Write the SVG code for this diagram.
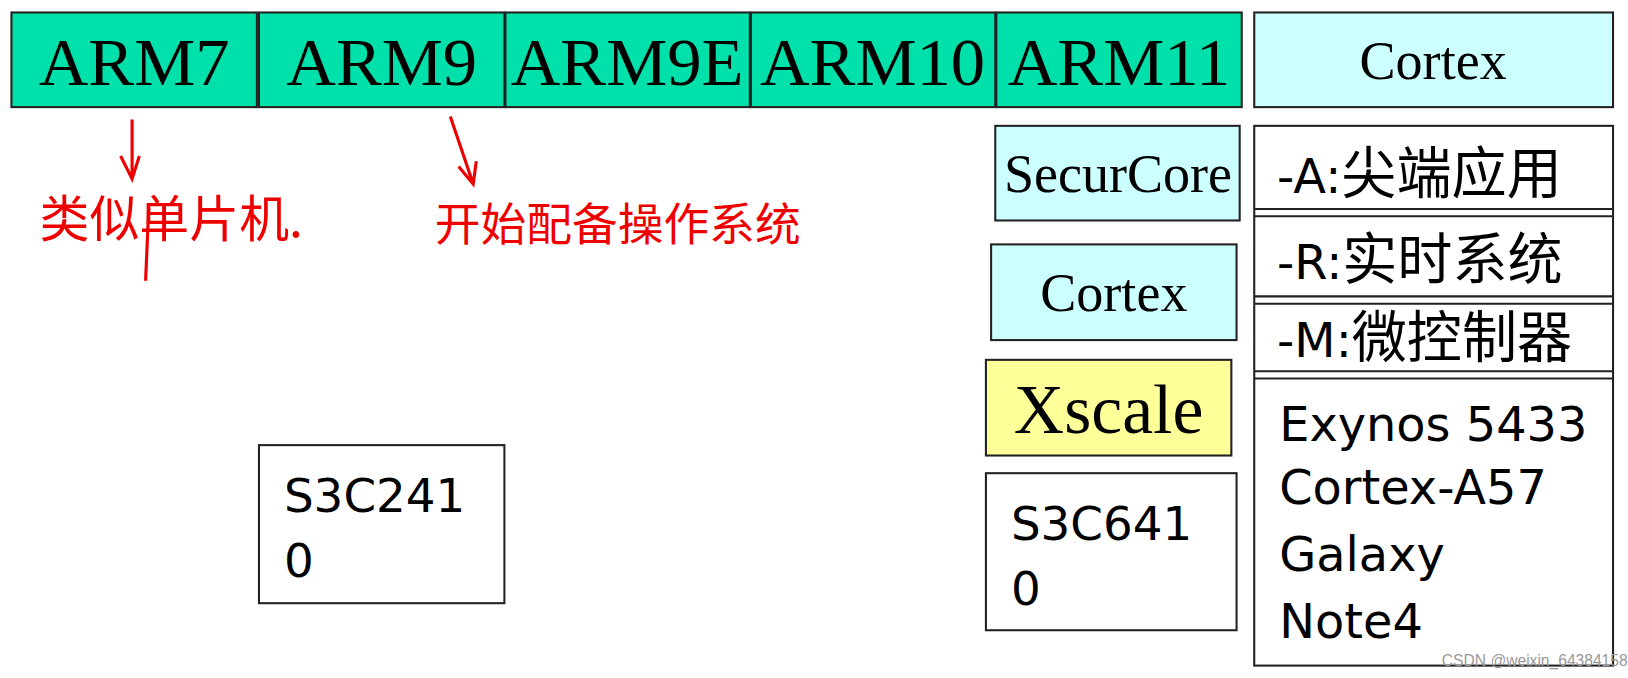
<svg xmlns="http://www.w3.org/2000/svg" width="1628" height="678" viewBox="0 0 1628 678">
<style>
.g{fill:#00e0aa;stroke:#222;stroke-width:2}
.c{fill:#ccffff;stroke:#222;stroke-width:2}
.w{fill:#fff;stroke:#222;stroke-width:2}
.y{fill:#ffff99;stroke:#222;stroke-width:2}
.t{font-family:"Liberation Serif",serif;text-anchor:middle;fill:#000}
.s{font-family:"DejaVu Sans","Noto Sans CJK SC",sans-serif;fill:#000;font-size:45px}
.l{font-family:"DejaVu Sans","Noto Sans CJK SC",sans-serif;fill:#000;font-size:46px}
.k{font-size:53px;font-family:"Noto Sans CJK SC",sans-serif}
.h{font-family:"Noto Sans CJK SC",sans-serif;fill:#e00}
.r{stroke:#e00;stroke-width:3;fill:none}
</style>
<rect width="1628" height="678" fill="#fff"/>
<g transform="scale(1.04)">
<g id="arm7"><rect class="g" x="11" y="12" width="236" height="91"/><text class="t" x="129" y="82" font-size="66">ARM7</text></g>
<g id="arm9"><rect class="g" x="249" y="12" width="236" height="91"/><text class="t" x="367" y="82" font-size="66">ARM9</text></g>
<g id="arm9e"><rect class="g" x="486" y="12" width="235" height="91"/><text class="t" x="603" y="82" font-size="66">ARM9E</text></g>
<g id="arm10"><rect class="g" x="722" y="12" width="235" height="91"/><text class="t" x="839" y="82" font-size="66">ARM10</text></g>
<g id="arm11"><rect class="g" x="958" y="12" width="236" height="91"/><text class="t" x="1076" y="82" font-size="66">ARM11</text></g>
<g id="cortexh"><rect class="c" x="1206" y="12" width="345" height="91"/><text class="t" x="1378" y="76" font-size="52">Cortex</text></g>
<g id="securcore"><rect class="c" x="957" y="121" width="235" height="91"/><text class="t" x="1075" y="185" font-size="52">SecurCore</text></g>
<g id="cortex2"><rect class="c" x="953" y="235" width="236" height="92"/><text class="t" x="1071" y="299" font-size="52">Cortex</text></g>
<g id="xscale"><rect class="y" x="948" y="346" width="236" height="92"/><text class="t" x="1066" y="416" font-size="67">Xscale</text></g>
<g id="s3c6410"><rect class="w" x="948" y="455" width="241" height="151"/><text class="s" x="972" y="519">S3C641</text><text class="s" x="972" y="582">0</text></g>
<g id="s3c2410"><rect class="w" x="249" y="428" width="236" height="152"/><text class="s" x="273" y="492">S3C241</text><text class="s" x="273" y="555">0</text></g>
<g id="cortexlist">
<rect class="w" x="1206" y="121" width="345" height="519"/>
<path d="M1206 201H1551M1206 208H1551M1206 285H1551M1206 292H1551M1206 357H1551M1206 364H1551" stroke="#222" stroke-width="2"/>
<text class="l" x="1228" y="186">-A:<tspan class="k">尖端应用</tspan></text>
<text class="l" x="1228" y="268">-R:<tspan class="k">实时系统</tspan></text>
<text class="l" x="1228" y="343">-M:<tspan class="k">微控制器</tspan></text>
<text class="l" x="1230" y="424">Exynos 5433</text>
<text class="l" x="1230" y="485">Cortex-A57</text>
<text class="l" x="1230" y="549">Galaxy</text>
<text class="l" x="1230" y="613">Note4</text>
</g>
<g id="connectors">
<path class="r" d="M127 115V172M116 150L127 172L134 150"/>
<path class="r" d="M433 112L455 177M441 160L455 177L458 155"/>
<path class="r" d="M143 200L140 270"/>
</g>
<text class="h" x="38" y="228" font-size="48">类似单片机.</text>
<text class="h" x="418" y="232" font-size="44">开始配备操作系统</text>
<text x="1565" y="640" font-family="Liberation Sans,sans-serif" font-size="15" fill="#999" text-anchor="end">CSDN @weixin_64384158</text>
</g>
</svg>
